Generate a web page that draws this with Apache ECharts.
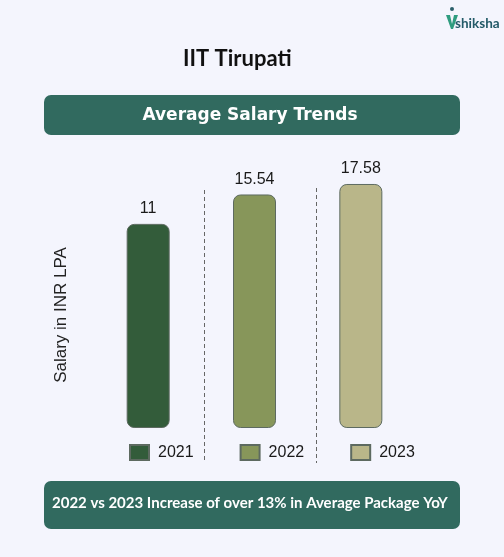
<!DOCTYPE html>
<html>
<head>
<meta charset="utf-8">
<script src="https://cdn.jsdelivr.net/npm/echarts@6/dist/echarts.min.js"></script>
<style>
html,body{margin:0;padding:0;background:#f4f5fd;}
#chart{width:504px;height:557px;}
</style>
</head>
<body>
<div id="chart"></div>
<script>
const years = ['2021', '2022', '2023'];
const salaries = [11, 15.54, 17.58];
const barColors = ['#335c3a', '#87965a', '#b9b689'];
const chartTitle = 'IIT Tirupati';
const bannerTitle = 'Average Salary Trends';
const footerText = '2022 vs 2023 Increase of over 13% in Average Package YoY';
const yAxisTitle = 'Salary in INR LPA';

const chart = echarts.init(document.getElementById('chart'));

const series = years.map((y, i) => ({
  name: y,
  type: 'bar',
  barWidth: 43,
  barGap: '-100%',
  data: salaries.map((v, j) => (j === i ? v : null)),
  itemStyle: {
    color: barColors[i],
    borderColor: '#5d6a60',
    borderWidth: 1,
    borderRadius: 7
  },
  label: {
    show: true,
    position: 'top',
    distance: 7,
    fontSize: 16,
    fontFamily: 'Liberation Sans',
    color: '#1a1a1a'
  }
}));

chart.setOption({
  backgroundColor: '#f4f5fd',
  animation: false,
  title: {
    text: chartTitle,
    left: 178,
    top: 43,
    textStyle: { fontSize: 22, fontWeight: 'bold', fontFamily: 'Lato', color: '#111' }
  },
  legend: {
    data: years,
    left: 124,
    top: 439,
    itemWidth: 19,
    itemHeight: 15,
    itemGap: 46,
    icon: 'rect',
    textStyle: { fontSize: 16, fontFamily: 'Liberation Sans', color: '#1a1a1a', padding: [2, 0, 0, 4] }
  },
  grid: { left: 95, right: 90, top: 36, bottom: 129 },
  xAxis: {
    type: 'category',
    data: years,
    axisLine: { show: false },
    axisTick: { show: false },
    axisLabel: { show: false },
    splitLine: { show: false }
  },
  yAxis: {
    type: 'log',
    min: 1,
    max: 100,
    axisLine: { show: false },
    axisTick: { show: false },
    axisLabel: { show: false },
    splitLine: { show: false }
  },
  series: series,
  graphic: [
    {
      type: 'rect', z: -1,
      shape: { x: 44, y: 95, width: 416, height: 40, r: 7 },
      style: { fill: '#316a5f' }
    },
    {
      type: 'text',
      x: 250, y: 116,
      style: {
        text: bannerTitle, fill: '#fff', fontSize: 17, fontWeight: 'bold',
        fontFamily: 'DejaVu Sans', align: 'center', verticalAlign: 'middle'
      }
    },
    {
      type: 'rect', z: -1,
      shape: { x: 44, y: 481, width: 416, height: 48, r: 7 },
      style: { fill: '#316a5f' }
    },
    {
      type: 'text',
      x: 52, y: 503,
      style: {
        text: footerText, fill: '#fff', fontSize: 15, fontWeight: 'bold',
        fontFamily: 'Lato', align: 'left', verticalAlign: 'middle'
      }
    },
    {
      type: 'text',
      x: 61, y: 315, rotation: Math.PI / 2,
      style: {
        text: yAxisTitle, fill: '#222', fontSize: 17,
        fontFamily: 'Liberation Sans', align: 'center', verticalAlign: 'middle'
      }
    },
    {
      type: 'line',
      shape: { x1: 204.5, y1: 190, x2: 204.5, y2: 463 },
      style: { stroke: '#666', lineWidth: 1, lineDash: [4, 3] }
    },
    {
      type: 'line',
      shape: { x1: 316.5, y1: 188, x2: 316.5, y2: 463 },
      style: { stroke: '#666', lineWidth: 1, lineDash: [4, 3] }
    },
    {
      type: 'polygon',
      shape: { points: [[446, 15], [450, 15], [452, 24], [454, 15], [458, 15], [453, 29], [451, 29]] },
      style: { fill: '#2f9c7f' }
    },
    {
      type: 'circle',
      shape: { cx: 452, cy: 9, r: 2 },
      style: { fill: '#2a5f6a' }
    },
    {
      type: 'text',
      x: 455, y: 24,
      style: {
        text: 'shiksha', fill: '#235a68', fontSize: 13.5, fontWeight: 'bold',
        fontFamily: 'Lato', align: 'left', verticalAlign: 'middle'
      }
    }
  ]
});
</script>
</body>
</html>
